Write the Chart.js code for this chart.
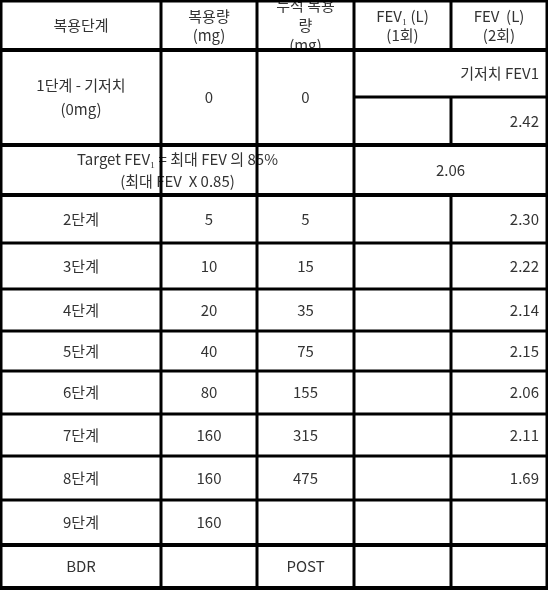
<!DOCTYPE html><html><head><meta charset="utf-8">
<script src="https://cdn.jsdelivr.net/npm/chart.js@4"></script>
<style>html,body{margin:0;padding:0;background:#fff}#w{width:548px;height:590px}</style></head><body>
<div id="w"><canvas id="c"></canvas></div>
<script>
const headers=[["복용단계"],["복용량","(mg)"],["누적 복용","량","(mg)"],["FEV₁ (L)","(1회)"],["FEV  (L)","(2회)"]];
const stages=["2단계","3단계","4단계","5단계","6단계","7단계","8단계","9단계","BDR"];
const doses=["5","10","20","40","80","160","160","160",""];
const cumDoses=["5","15","35","75","155","315","475","","POST"];
const fev2=["2.30","2.22","2.14","2.15","2.06","2.11","1.69","",""];
const baseline={stage:["1단계 - 기저치","(0mg)"],dose:"0",cum:"0",label:"기저치 FEV1",fev:"2.42"};
const target={text:["Target FEV₁ = 최대 FEV 의 85%","(최대 FEV  X 0.85)"],value:"2.06"};
const colX=[1,161,257,354,451,547];
const rowY=[195,243,289,331,371,414,456,500,545,588];
const font='15px "Noto Sans CJK KR"';
const tablePlugin={id:'tbl',afterDraw(ch){
 const c=ch.ctx,xs=ch.scales.x,ys=ch.scales.y;
 const X=v=>xs.getPixelForValue(v),Y=v=>ys.getPixelForValue(v);
 c.save();c.fillStyle='#fff';c.fillRect(0,0,ch.width,ch.height);
 c.font=font;c.fillStyle='#333';c.textBaseline='middle';
 function txt(lines,x0,x1,y0,y1,align,lh){lh=lh||20;const n=lines.length;
  lines.forEach((s,i)=>{const y=(Y(y0)+Y(y1))/2+(i-(n-1)/2)*lh;
   if(align==='right'){c.textAlign='right';c.fillText(s,X(x1)-8,y);}else{c.textAlign='center';c.fillText(s,(X(x0)+X(x1))/2,y);}});}
 c.save();c.beginPath();c.rect(0,Y(1),ch.width,Y(50)-Y(1));c.clip();
 headers.forEach((h,i)=>txt(h,colX[i],colX[i+1],1,50,'center',h.length>2?20:19));c.restore();
 txt(baseline.stage,colX[0],colX[1],50,145,'center',24);
 txt([baseline.dose],colX[1],colX[2],50,145);txt([baseline.cum],colX[2],colX[3],50,145);
 txt([baseline.label],colX[3],colX[5],50,97,'right');txt([baseline.fev],colX[4],colX[5],97,145,'right');
 txt(target.text,colX[0],colX[3],145,195,'center',22);txt([target.value],colX[3],colX[5],145,195);
 stages.forEach((s,i)=>{const a=rowY[i],b=rowY[i+1];
  txt([s],colX[0],colX[1],a,b);txt([doses[i]],colX[1],colX[2],a,b);txt([cumDoses[i]],colX[2],colX[3],a,b);
  if(fev2[i])txt([fev2[i]],colX[4],colX[5],a,b,'right');});
 c.strokeStyle='#000';
 function h(y,x0,x1,w){c.lineWidth=w;c.beginPath();c.moveTo(X(x0),Y(y));c.lineTo(X(x1),Y(y));c.stroke();}
 function v(x,y0,y1,w){c.lineWidth=w;c.beginPath();c.moveTo(X(x),Y(y0));c.lineTo(X(x),Y(y1));c.stroke();}
 h(1,0,548,3);h(50,0,548,4);h(97,colX[3],548,3);h(145,0,548,4);h(195,0,548,4);
 rowY.slice(1,-1).forEach(y=>h(y,0,548,y===545?4:3));h(588,0,548,4);
 v(colX[0],0,590,3);v(colX[5],0,590,3);
 v(colX[1],0,588,3);v(colX[2],0,588,3);v(colX[3],0,588,3);
 v(colX[4],0,50,3);v(colX[4],97,145,3);v(colX[4],195,588,3);
 c.restore();}};
new Chart(document.getElementById('c'),{type:'scatter',data:{datasets:[{data:[]}]},
 options:{responsive:true,maintainAspectRatio:false,animation:false,layout:{padding:0},
 plugins:{legend:{display:false},tooltip:{enabled:false}},
 scales:{x:{type:'linear',min:0,max:548,display:false},y:{type:'linear',min:0,max:590,reverse:true,display:false}}},
 plugins:[tablePlugin]});
</script></body></html>
